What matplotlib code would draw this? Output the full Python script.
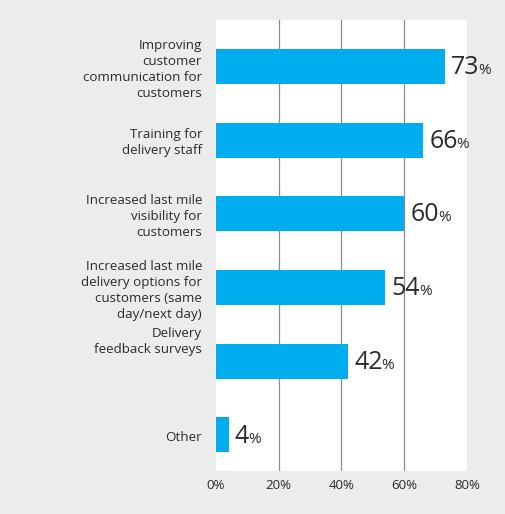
"""Horizontal bar chart: last mile improvement initiatives (share of respondents)."""

import matplotlib.pyplot as plt

categories = [
    "Improving\ncustomer\ncommunication for\ncustomers",
    "Training for\ndelivery staff",
    "Increased last mile\nvisibility for\ncustomers",
    "Increased last mile\ndelivery options for\ncustomers (same\nday/next day)",
    "Delivery\nfeedback surveys",
    "Other",
]
values = [73, 66, 60, 54, 42, 4]
x_ticks = [0, 20, 40, 60, 80]
x_tick_labels = ["0%", "20%", "40%", "60%", "80%"]

BG = "#ececec"
BAR = "#00aeef"
TEXT = "#2b2b2b"

plt.rcParams["font.family"] = ["Open Sans", "DejaVu Sans"]

fig = plt.figure(figsize=(5.05, 5.14), dpi=100, facecolor=BG)
ax = fig.add_axes([0.4277, 0.0837, 0.497, 0.8775])
ax.set_facecolor("white")

pos = list(range(len(values)))
ax.barh(pos, values, height=0.475, color=BAR, zorder=2)

ax.set_xlim(0, 80)
ax.set_ylim(5.49, -0.63)

for x in x_ticks[1:-1]:
    ax.axvline(x, color="#8c8c8c", linewidth=0.9, zorder=1)

ax.set_xticks(x_ticks)
ax.set_xticklabels(x_tick_labels, fontsize=9.5, color=TEXT)
ax.set_yticks([])
ax.tick_params(axis="both", length=0)
ax.tick_params(axis="x", pad=5.5)
for spine in ax.spines.values():
    spine.set_visible(False)

# category labels; the "Delivery feedback surveys" one sits higher than its bar
for p, cat in zip(pos, categories):
    dy = 14.5 if cat.startswith("Delivery") else -2
    ax.annotate(
        cat, xy=(0, p), xytext=(-10, dy), textcoords="offset points",
        ha="right", va="center", multialignment="right",
        fontsize=9.6, color=TEXT, linespacing=1.3, annotation_clip=False,
    )

# value labels: big number followed by a smaller percent sign, same baseline
fig.canvas.draw()
renderer = fig.canvas.get_renderer()
for p, v in zip(pos, values):
    num = ax.annotate(
        str(v), xy=(v, p), xytext=(4.5, -5.5), textcoords="offset points",
        ha="left", va="baseline", fontsize=18, color=TEXT,
    )
    bb = num.get_window_extent(renderer)
    x_end, _ = ax.transData.inverted().transform((bb.x1, 0))
    ax.annotate(
        "%", xy=(x_end, p), xytext=(-0.8, -5.5), textcoords="offset points",
        ha="left", va="baseline", fontsize=11, color=TEXT, annotation_clip=False,
    )

fig.savefig("out.png", dpi=100, facecolor=BG)
